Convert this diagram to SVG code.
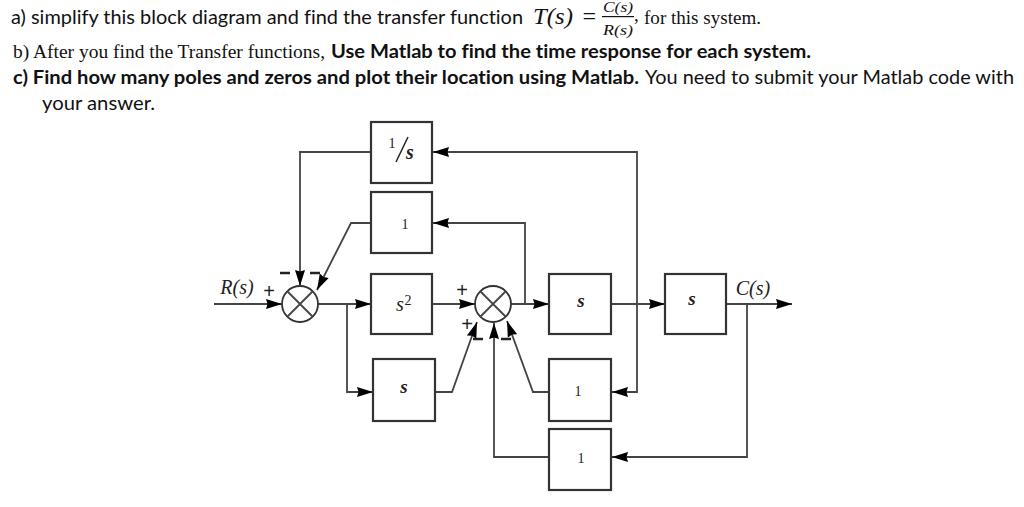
<svg xmlns="http://www.w3.org/2000/svg" width="1024" height="507" viewBox="0 0 1024 507">
<style>
.t{font-family:"Lato","Open Sans",sans-serif;font-size:19px;fill:#111;font-variant-ligatures:none}
.b{font-weight:700}
.r{font-family:"Liberation Serif",serif;font-size:19px;fill:#111}
.m{font-family:"Liberation Serif",serif;font-style:italic;fill:#111}
.l{font-family:"Liberation Serif",serif;fill:#222;text-anchor:middle}
.i{font-style:italic}
.o{font-weight:700}
.box{fill:#fff;stroke:#333;stroke-width:2.2}
.c{fill:none;stroke:#444;stroke-width:1.8}
.a{marker-end:url(#ah)}
.sum{fill:#fff;stroke:#333;stroke-width:1.8}
.sg{font-family:"Liberation Sans",sans-serif;font-size:20px;fill:#222;text-anchor:middle}
.d{stroke:#222;stroke-width:2.6}
</style>
<defs>
<marker id="ah" markerUnits="userSpaceOnUse" markerWidth="17" markerHeight="12" refX="16" refY="6" orient="auto"><path d="M0 1L16 6L0 11L1.5 6Z" fill="#000"/></marker>
</defs>
<rect width="1024" height="507" fill="#fff"/>
<g id="question">
<text class="t" x="11" y="24" textLength="512" lengthAdjust="spacingAndGlyphs">a) simplify this block diagram and find the transfer function</text>
<text class="m" x="533" y="24" font-size="23" textLength="40" lengthAdjust="spacingAndGlyphs">T(s)</text>
<text class="m" x="581" y="24" font-size="24" font-style="normal">=</text>
<text class="m" x="603" y="12" font-size="15" textLength="30" lengthAdjust="spacingAndGlyphs">C(s)</text>
<rect x="602" y="16" width="32" height="1.2" fill="#111"/>
<text class="m" x="603" y="35" font-size="15" textLength="30" lengthAdjust="spacingAndGlyphs">R(s)</text>
<text class="r" x="634" y="21">,</text>
<text class="r" x="644" y="24" textLength="117" lengthAdjust="spacingAndGlyphs">for this system.</text>
<text class="r" x="13" y="58" textLength="312" lengthAdjust="spacingAndGlyphs">b) After you find the Transfer functions,</text>
<text class="t b" x="331" y="58" textLength="480" lengthAdjust="spacingAndGlyphs">Use Matlab to find the time response for each system.</text>
<text class="t b" x="13" y="84" textLength="626" lengthAdjust="spacingAndGlyphs">c) Find how many poles and zeros and plot their location using Matlab.</text>
<text class="t" x="645" y="84" textLength="369" lengthAdjust="spacingAndGlyphs">You need to submit your Matlab code with</text>
<text class="t" x="42" y="110" textLength="113" lengthAdjust="spacingAndGlyphs">your answer.</text>
</g>
<g id="connectors">
<path class="c a" d="M214 304H282"/>
<path class="c a" d="M318 304H371"/>
<path class="c a" d="M347 304V392H373"/>
<path class="c a" d="M432 304H475"/>
<path class="c a" d="M435 392H452L477 322"/>
<path class="c a" d="M511 304H549"/>
<path class="c a" d="M611 304H665"/>
<path class="c a" d="M726 304H792"/>
<path class="c a" d="M371 152H300V286"/>
<path class="c a" d="M371 223H351L317 290"/>
<path class="c a" d="M525 304V223H433"/>
<path class="c a" d="M637 304V152H433"/>
<path class="c a" d="M637 304V392H612"/>
<path class="c a" d="M747 304V457H612"/>
<path class="c a" d="M549 457H494V323"/>
<path class="c a" d="M549 392H533L507 321"/>
</g>
<g id="node-inv-s"><rect class="box" x="371" y="122" width="61" height="61"/><text class="l" x="392" y="148" font-size="14">1</text><path d="M408 137L396 162" stroke="#222" stroke-width="1.5"/><text class="l i o" x="410" y="159" font-size="20">s</text></g>
<g id="node-one-top"><rect class="box" x="371" y="192" width="61" height="61"/><text class="l" x="405" y="229" font-size="14">1</text></g>
<g id="node-s2"><rect class="box" x="371" y="274" width="61" height="60"/><text class="l i" x="400" y="311" font-size="20">s</text><text class="l" x="408" y="305" font-size="14">2</text></g>
<g id="node-s-lower"><rect class="box" x="373" y="359" width="62" height="62"/><text class="l i o" x="404" y="393" font-size="19">s</text></g>
<g id="node-s-mid"><rect class="box" x="549" y="274" width="62" height="60"/><text class="l i o" x="581" y="307" font-size="19">s</text></g>
<g id="node-s-right"><rect class="box" x="665" y="274" width="61" height="60"/><text class="l i o" x="692" y="305" font-size="19">s</text></g>
<g id="node-one-mid"><rect class="box" x="549" y="359" width="62" height="62"/><text class="l" x="578" y="396" font-size="14">1</text></g>
<g id="node-one-bottom"><rect class="box" x="549" y="429" width="62" height="61"/><text class="l" x="581" y="463" font-size="14">1</text></g>
<g id="sum-1"><circle class="sum" cx="300" cy="304" r="18"/><path class="c" d="M287 291L313 317M313 291L287 317"/></g>
<g id="sum-2"><circle class="sum" cx="493" cy="304" r="18"/><path class="c" d="M480 291L506 317M506 291L480 317"/></g>
<g id="labels">
<text class="l i" x="237" y="294" font-size="20">R(s)</text>
<text class="sg" x="269" y="298">+</text>
<path class="d" d="M280 273H290M310 273H320"/>
<text class="sg" x="462" y="297">+</text>
<text class="sg" x="467" y="331">+</text>
<path class="d" d="M473 339H483M501 339H511"/>
<text class="l i" x="753" y="295" font-size="20">C(s)</text>
</g>
</svg>
